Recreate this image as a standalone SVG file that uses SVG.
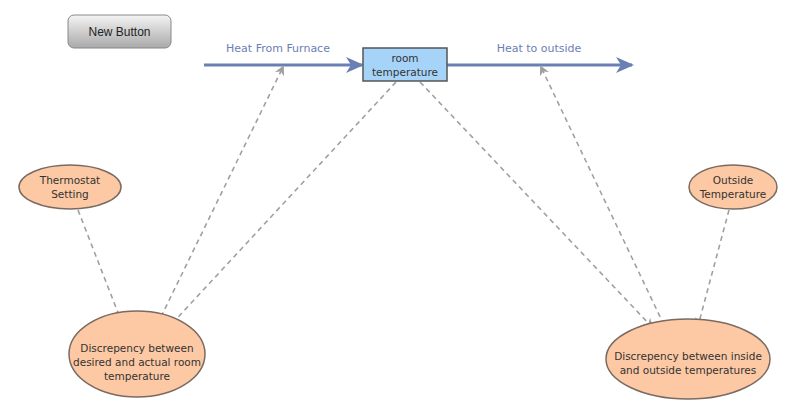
<svg xmlns="http://www.w3.org/2000/svg" width="800" height="420" viewBox="0 0 800 420">
<defs>
<linearGradient id="bg" x1="0" y1="0" x2="0" y2="1"><stop offset="0" stop-color="#f4f4f4"/><stop offset="1" stop-color="#a9a9a9"/></linearGradient>
<marker id="da" markerWidth="10" markerHeight="10" refX="8" refY="5" orient="auto" markerUnits="userSpaceOnUse"><path d="M0,0 L10,5 L0,10 L3,5 Z" fill="#a0a0a0"/></marker>
<marker id="fa" markerWidth="18" markerHeight="16" refX="16" refY="8" orient="auto" markerUnits="userSpaceOnUse"><path d="M0,0 L18,8 L0,16 L5,8 Z" fill="#6a80b4"/></marker>
</defs>
<style>
text{font-family:"Comic Sans MS","DejaVu Sans",sans-serif;font-size:10.5px;fill:#333;text-anchor:middle}
.lbl{fill:#6a80b4;font-size:11px}
.ell{fill:#fdc9a4;stroke:#7a6a60;stroke-width:1.5}
.dash{stroke:#a0a0a0;stroke-width:1.6;stroke-dasharray:5,4;fill:none;marker-end:url(#da)}
.flow{stroke:#6a80b4;stroke-width:3;fill:none;marker-end:url(#fa)}
</style>
<rect width="800" height="420" fill="#fff"/>
<g id="button"><rect x="68" y="15" width="103" height="33" rx="6" fill="url(#bg)" stroke="#888"/><text x="119.5" y="36" style="font-family:'Liberation Sans',sans-serif;font-size:12px;fill:#222">New Button</text></g>
<g id="connectors">
<path class="flow" d="M204,65 L362,65"/>
<path class="flow" d="M447,65 L632,65"/>
<path class="dash" d="M78,210 L122,323"/>
<path class="dash" d="M157,325 L283,67"/>
<path class="dash" d="M396,82 L168,328"/>
<path class="dash" d="M420,82 L652,327"/>
<path class="dash" d="M664,325 L541,67"/>
<path class="dash" d="M729,210 L698,326"/>
</g>
<g id="flowlabels"><text class="lbl" x="278" y="52">Heat From Furnace</text><text class="lbl" x="539" y="52">Heat to outside</text></g>
<g id="room"><rect x="363" y="48" width="84" height="33" fill="#a6d4f8" stroke="#555" stroke-width="1.5"/><text x="405" y="62">room</text><text x="405" y="76">temperature</text></g>
<g id="thermostat"><ellipse class="ell" cx="70" cy="187" rx="51" ry="22"/><text x="70" y="184">Thermostat</text><text x="70" y="198">Setting</text></g>
<g id="disc-left"><ellipse class="ell" cx="137" cy="354" rx="68" ry="43"/><text x="137" y="352">Discrepency between</text><text x="137" y="366">desired and actual room</text><text x="137" y="380">temperature</text></g>
<g id="outside"><ellipse class="ell" cx="733" cy="187" rx="44" ry="22"/><text x="733" y="184">Outside</text><text x="733" y="198">Temperature</text></g>
<g id="disc-right"><ellipse class="ell" cx="688" cy="359" rx="82" ry="40"/><text x="688" y="360">Discrepency between inside</text><text x="688" y="374">and outside temperatures</text></g>
</svg>
